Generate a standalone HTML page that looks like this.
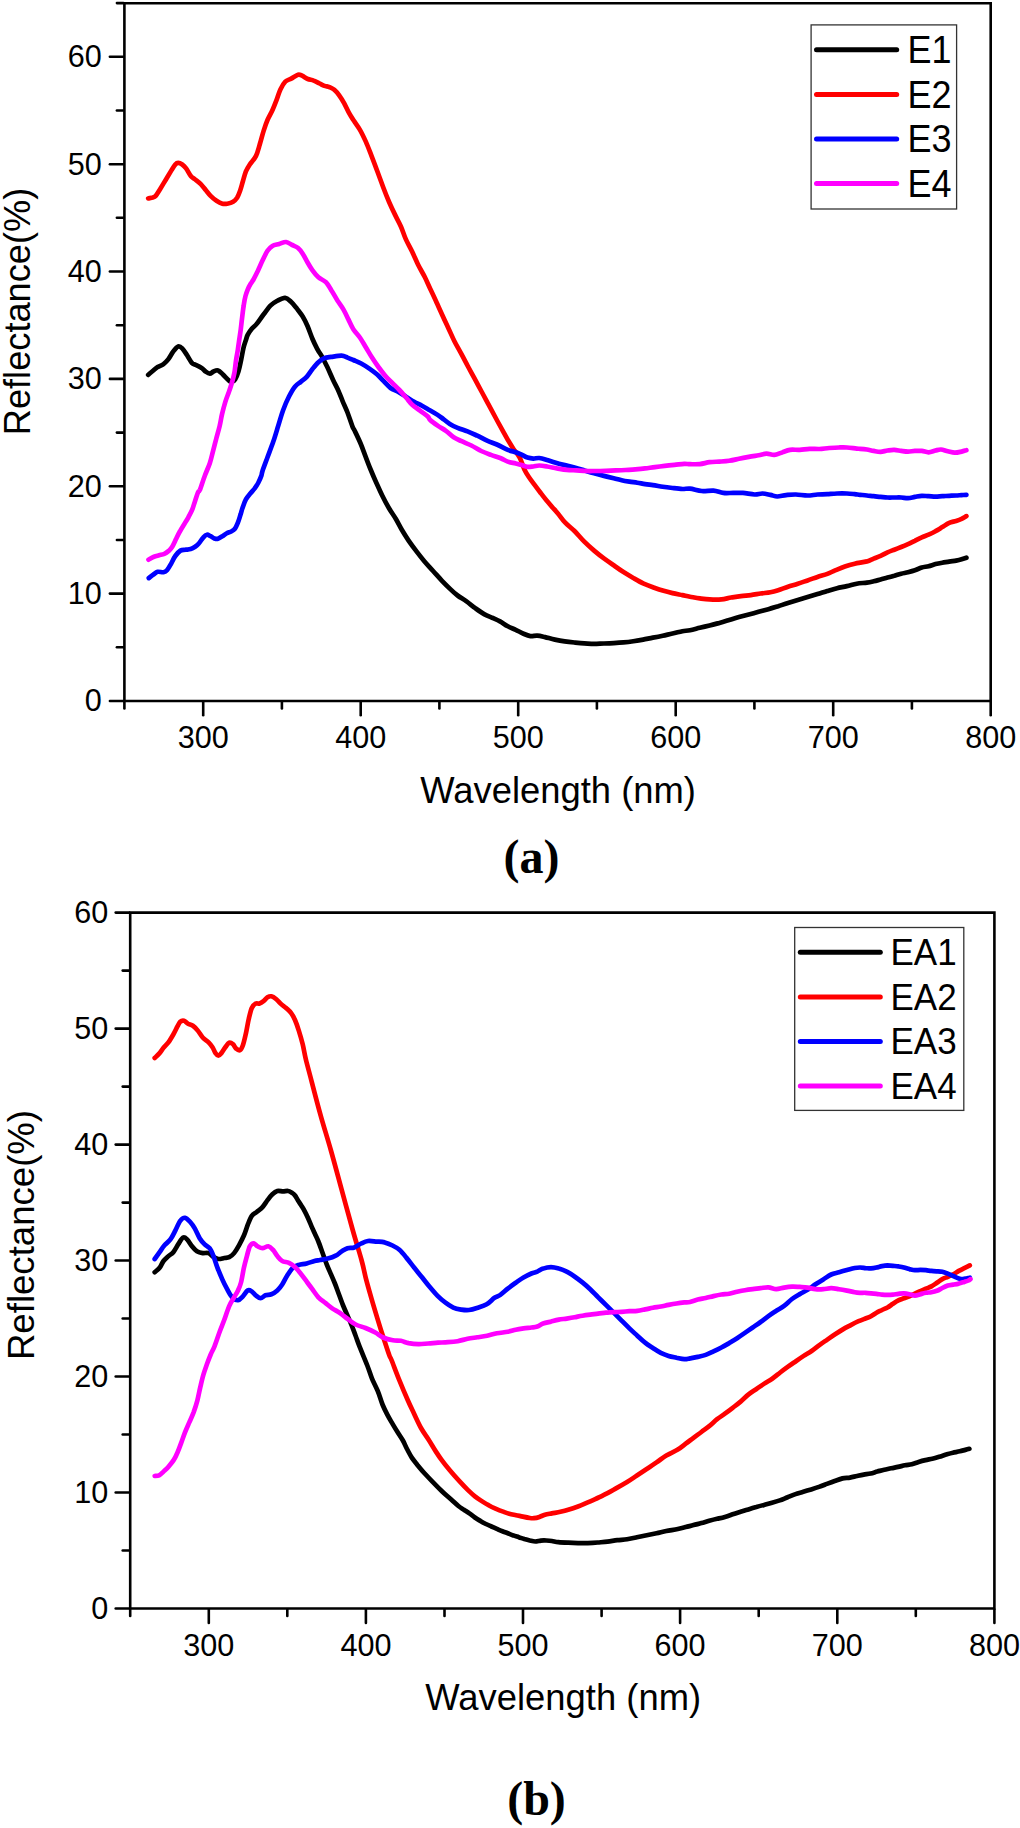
<!DOCTYPE html>
<html><head><meta charset="utf-8"><title>Reflectance spectra</title>
<style>html,body{margin:0;padding:0;background:#fff;}svg{display:block;}</style></head>
<body><svg width="1020" height="1828" viewBox="0 0 1020 1828" font-family='"Liberation Sans", sans-serif' fill="#000" style="font-variant-ligatures:none">
<rect width="1020" height="1828" fill="#fff"/>
<path d="M148.2,374.9C148.9,374.2 151.1,372.3 152.7,371C154.3,369.7 155.8,368.2 157.6,367.1C159.4,366 161.7,365.4 163.5,364.1C165.3,362.8 166.8,361.3 168.4,359.2C170,357.1 171.7,353.5 173.3,351.4C174.9,349.3 176.7,347 178.2,346.5C179.7,346 180.7,346.9 182.2,348.4C183.7,349.9 185.5,352.9 187.1,355.3C188.7,357.8 190.7,361.6 192,363.1C193.3,364.7 193.4,363.8 195,364.6C196.6,365.4 199.8,366.8 201.6,367.9C203.3,369 204.1,370.5 205.5,371.5C206.9,372.5 208.5,373.7 209.8,373.7C211.1,373.7 212.1,372.1 213.5,371.5C214.9,370.9 216.4,369.9 218,370.4C219.6,370.9 221,372.7 222.9,374.5C224.8,376.3 227.9,379.8 229.5,381C231.1,382.2 231.6,381.8 232.5,381.5C233.4,381.2 234.2,381.1 235.2,379.4C236.2,377.7 237.5,374.3 238.5,371.2C239.5,368.1 240.2,364.3 241,360.5C241.8,356.7 242.6,351.6 243.4,348.2C244.2,344.8 245.2,342.2 245.9,340C246.6,337.8 246.8,336.6 247.8,334.7C248.8,332.8 250.3,330.6 251.8,328.8C253.3,327 254.8,326.3 256.7,323.9C258.6,321.5 261.2,317.5 263.5,314.5C265.8,311.5 268.1,308 270.4,305.7C272.7,303.4 274.9,302.1 277.3,300.8C279.8,299.5 282.8,297.6 285.1,297.8C287.4,298 289,300 291,301.8C293,303.6 294.9,306.2 296.9,308.6C298.8,311.1 300.9,313.6 302.7,316.5C304.5,319.4 306,322.6 307.6,326.3C309.2,330.1 310.9,335.1 312.5,339C314.1,342.9 315.9,346.3 317.5,349.4C319.1,352.4 320.8,354.4 322.4,357.3C324,360.2 325.5,363.3 327.3,367.1C329.1,370.9 331.4,376.4 333.1,380C334.8,383.6 336,385.5 337.6,389C339.2,392.5 340.9,396.9 342.5,400.8C344.1,404.7 345.9,408.2 347.5,412.5C349.1,416.8 351.2,423.2 352.4,426.3C353.6,429.4 353.3,427.9 354.7,430.8C356.1,433.7 358.8,439.2 360.6,443.5C362.4,447.8 363.9,452.1 365.5,456.3C367.1,460.6 368.6,464.6 370.4,469C372.2,473.4 374.3,478.3 376.3,482.7C378.3,487.1 380.1,491.2 382.2,495.5C384.3,499.8 386.7,504.3 389,508.2C391.3,512.1 393.8,515.4 395.9,519C398,522.6 399.7,526.2 401.8,529.8C403.9,533.4 406.2,537 408.6,540.6C411.1,544.2 413.9,548 416.5,551.4C419.1,554.8 421.5,557.9 424.3,561.2C427.1,564.5 430.2,567.7 433.1,571C436.1,574.3 439.2,577.9 442,580.8C444.8,583.7 447.2,586.1 449.8,588.6C452.4,591.1 454.8,593.4 457.6,595.5C460.4,597.6 463.6,599.3 466.5,601.4C469.4,603.5 472.4,606.1 475.3,608.2C478.2,610.3 481.2,612.5 484.1,614.1C487,615.7 490.2,616.8 492.9,618C495.5,619.2 497.5,620 500,621.4C502.5,622.8 505.2,624.9 507.8,626.3C510.4,627.7 513.1,628.6 515.7,629.8C518.3,631 521,632.7 523.5,633.7C526,634.8 528.1,635.8 530.4,636.1C532.7,636.4 534.8,635.5 537.3,635.7C539.8,635.9 542.2,636.5 545.1,637.1C548,637.8 551.6,638.9 554.9,639.6C558.2,640.3 561.4,640.9 564.7,641.4C568,641.9 571.2,642.2 574.5,642.5C577.8,642.8 581,643.1 584.3,643.3C587.6,643.5 590.8,643.9 594.1,643.9C597.4,643.9 600.6,643.6 603.9,643.5C607.2,643.4 610.4,643.3 613.7,643.1C617,642.9 620.2,642.7 623.5,642.4C626.8,642.1 630,641.7 633.3,641.2C636.6,640.7 639.8,640.2 643.1,639.6C646.4,639 649.6,638.2 652.9,637.6C656.2,637 659.4,636.4 662.7,635.7C666,635 669.2,634.2 672.5,633.5C675.8,632.8 679.5,631.8 682.4,631.2C685.3,630.7 687.1,630.8 690,630.2C692.9,629.6 696.5,628.6 699.8,627.8C703.1,627 706.3,626.3 709.6,625.5C712.9,624.7 716.1,623.8 719.4,622.9C722.7,622 725.9,621 729.2,620C732.5,619 735.7,618 739,617.1C742.3,616.2 745.5,615.4 748.8,614.5C752.1,613.6 755.3,612.7 758.6,611.8C761.9,610.9 765.1,610.1 768.4,609.2C771.7,608.3 774.9,607.3 778.2,606.3C781.5,605.2 784.7,603.9 788,602.9C791.3,601.9 794.5,601 797.8,600C801.1,599 804.3,598.1 807.6,597.1C810.9,596.1 814.2,595.1 817.5,594.1C820.8,593.1 824,592 827.3,591C830.6,590 833.8,589 837.1,588.2C840.4,587.4 843.6,586.9 846.9,586.1C850.2,585.4 853.4,584.3 856.7,583.7C860,583.1 864.1,583 866.9,582.6C869.7,582.2 871.4,581.8 873.7,581.3C876,580.8 878.3,580.1 880.6,579.5C882.9,578.9 885.2,578.2 887.5,577.6C889.8,577 892,576.4 894.3,575.8C896.6,575.1 898.9,574.3 901.2,573.7C903.5,573.1 905.7,572.9 908,572.3C910.3,571.7 912.6,571.1 914.9,570.3C917.2,569.5 919.5,568.2 921.8,567.5C924.1,566.8 926.3,566.8 928.6,566.2C930.9,565.6 933.2,564.7 935.5,564.1C937.8,563.5 940,563.1 942.3,562.7C944.6,562.3 946.9,562 949.2,561.6C951.5,561.2 954,561 956.1,560.6C958.2,560.2 959.9,559.8 961.6,559.3C963.3,558.8 965.6,558 966.4,557.7" fill="none" stroke="#000" stroke-width="4.7" stroke-linejoin="round" stroke-linecap="round"/>
<path d="M148.2,198.4C148.9,198.2 151.4,197.9 152.7,197.5C153.9,197.1 154.5,197.2 155.7,195.9C156.8,194.7 158,192.6 159.6,190C161.2,187.4 163.5,183.5 165.5,180.2C167.5,176.9 169.8,173 171.4,170.4C173,167.8 174.2,165.8 175.3,164.5C176.4,163.2 177,162.9 178.2,162.9C179.3,162.9 180.9,163.6 182.2,164.5C183.5,165.4 184.6,166.4 186.1,168.4C187.6,170.4 189.5,174.5 191,176.3C192.5,178.1 193.3,177.9 194.9,179.2C196.5,180.5 199,182.3 200.8,184.1C202.6,185.9 204.1,188 205.7,190C207.3,192 208.8,194.1 210.6,195.9C212.4,197.7 214.5,199.5 216.5,200.8C218.5,202.1 220.6,203.2 222.4,203.7C224.2,204.2 225.5,204 227.3,203.7C229.1,203.4 231.5,202.8 233.1,201.8C234.7,200.8 235.9,199.6 237.1,197.8C238.2,196 239,193.8 240,191C241,188.2 241.9,184.5 242.9,181.2C243.9,177.9 244.8,174.2 245.9,171.4C247.1,168.6 248.1,167.1 249.8,164.5C251.5,161.9 254.2,159.5 255.9,156.1C257.6,152.7 258.5,148.6 259.8,144.3C261.1,140.1 262.4,134.7 263.7,130.6C265,126.5 266.1,123.2 267.6,119.8C269.1,116.4 271,113.3 272.5,110C274,106.7 275.2,103.6 276.5,100.2C277.8,96.8 278.9,92.5 280.4,89.4C281.9,86.3 283.5,83.4 285.3,81.6C287.1,79.8 289.1,79.8 291.2,78.6C293.3,77.4 296.2,75.2 298,74.7C299.8,74.2 300.4,75 302,75.7C303.6,76.4 305.9,78.2 307.8,79C309.8,79.8 311.7,79.8 313.7,80.6C315.7,81.3 317.8,82.6 319.6,83.5C321.4,84.4 322.9,85.3 324.5,85.9C326.1,86.5 327.8,86.4 329.4,87.1C331,87.8 332.7,88.4 334.3,89.8C335.9,91.2 337.6,93.1 339.2,95.3C340.8,97.5 342.5,100.2 344.1,103.1C345.7,106 347.4,110 349,112.9C350.6,115.9 352.1,118 353.9,120.8C355.7,123.6 357.8,126.2 359.8,129.6C361.8,133 363.7,137 365.7,141.4C367.7,145.8 369.6,151 371.6,156.1C373.6,161.2 375.6,166.6 377.5,171.8C379.4,177 381.4,182.4 383.3,187.5C385.2,192.6 387.2,197.6 389.2,202.2C391.2,206.8 393.1,210.8 395.1,214.9C397.1,219 399.2,222.6 401,226.7C402.8,230.8 404,235.2 405.9,239.4C407.8,243.6 410.2,247.6 412.2,251.8C414.2,256 415.9,260.2 418,264.5C420.1,268.8 422.8,273.1 424.9,277.3C427,281.6 428.8,285.8 430.8,290C432.8,294.2 434.8,298.4 436.7,302.7C438.6,306.9 440.6,311.2 442.5,315.5C444.4,319.8 446.4,323.9 448.4,328.2C450.4,332.4 452.2,336.8 454.3,341C456.4,345.2 458.9,349.4 461.2,353.7C463.5,357.9 465.7,362.2 468,366.5C470.3,370.8 472.6,374.9 474.9,379.2C477.2,383.4 479.5,387.8 481.8,392C484.1,396.2 486.3,400.4 488.6,404.7C490.9,408.9 493.2,413.2 495.5,417.5C497.8,421.8 500.3,426.4 502.4,430.2C504.5,433.9 506,436.9 507.9,440C509.8,443.1 511.5,446.1 513.5,449C515.5,451.9 517.9,454.2 519.7,457.6C521.5,461 522.9,466.2 524.4,469.4C525.9,472.5 526.8,473.9 528.5,476.5C530.2,479.1 532.4,482 534.4,484.7C536.4,487.4 538.3,489.9 540.3,492.5C542.3,495.1 544.2,497.6 546.2,500C548.2,502.4 550,504.6 552,506.8C554,509.1 555.7,510.9 557.9,513.5C560.1,516.1 562.2,519.5 565,522.4C567.8,525.3 571.3,527.8 574.5,531C577.7,534.2 581,538.4 584.3,541.7C587.6,545 590.8,547.8 594.1,550.6C597.4,553.4 600.6,556 603.9,558.4C607.2,560.8 610.4,563 613.7,565.3C617,567.6 620.2,570 623.5,572.1C626.8,574.2 630,576.1 633.3,578C636.6,579.9 639.8,581.8 643.1,583.3C646.4,584.8 649.6,586 652.9,587.2C656.2,588.4 659.4,589.6 662.7,590.6C666,591.6 669.2,592.4 672.5,593.1C675.8,593.9 679.5,594.5 682.4,595.1C685.3,595.7 687.1,596.2 690,596.7C692.9,597.2 696.5,598 699.8,598.4C703.1,598.8 706,599.2 709.6,599.4C713.2,599.6 717.8,599.7 721.4,599.4C725,599.1 727.9,598 731.2,597.5C734.5,597 737.7,596.5 741,596.1C744.3,595.7 747.5,595.5 750.8,595.1C754.1,594.7 757.3,594 760.6,593.5C763.9,593 767.5,592.8 770.4,592.2C773.3,591.7 775.3,591.1 778.2,590.2C781.1,589.3 784.7,587.8 788,586.7C791.3,585.6 794.5,584.8 797.8,583.7C801.1,582.7 804.3,581.5 807.6,580.4C810.9,579.3 814.2,578 817.5,576.9C820.8,575.8 824.4,575 827.3,573.9C830.2,572.8 832.2,571.6 835.1,570.4C838,569.2 841.6,567.6 844.9,566.5C848.2,565.4 851,564.6 854.7,563.7C858.4,562.9 863.7,562.2 866.9,561.4C870.1,560.5 871.4,559.5 873.7,558.6C876,557.7 878.3,556.9 880.6,555.9C882.9,554.9 885.2,553.4 887.5,552.4C889.8,551.4 892,550.6 894.3,549.7C896.6,548.8 898.9,547.9 901.2,547C903.5,546.1 905.7,545.2 908,544.2C910.3,543.2 912.6,541.9 914.9,540.8C917.2,539.6 919.5,538.3 921.8,537.3C924.1,536.3 926.3,535.6 928.6,534.6C930.9,533.6 933.2,532.5 935.5,531.2C937.8,530 940,528.5 942.3,527.1C944.6,525.7 946.9,523.9 949.2,522.9C951.5,521.9 954,521.6 956.1,520.9C958.2,520.2 959.9,519.6 961.6,518.8C963.3,518 965.6,516.5 966.4,516.1" fill="none" stroke="#f00" stroke-width="4.7" stroke-linejoin="round" stroke-linecap="round"/>
<path d="M148.8,578.1C149.5,577.5 151.7,575.8 153.2,574.7C154.7,573.7 155.9,572.2 157.6,571.8C159.3,571.4 161.9,572.5 163.5,572.2C165.1,571.9 166,571.4 167.2,570C168.4,568.6 169.6,566.4 170.9,564.1C172.2,561.8 173.7,558.2 175.3,556C176.9,553.8 178.7,551.6 180.4,550.6C182.1,549.6 183.9,550 185.6,549.7C187.3,549.5 189.1,549.6 190.7,549.1C192.3,548.6 193.8,547.7 195.1,546.8C196.4,545.9 197.5,545 198.8,543.5C200.2,542 201.8,539.1 203.2,537.6C204.5,536.1 205.7,534.9 206.9,534.7C208.1,534.5 209.4,535.6 210.6,536.2C211.8,536.8 213.1,538 214.3,538.4C215.5,538.8 216.6,539.2 217.9,538.8C219.2,538.4 220.9,537.1 222.4,536.2C223.9,535.3 225.3,534 226.8,533.2C228.3,532.4 229.8,532.2 231.2,531.5C232.5,530.8 233.8,530.2 234.9,528.8C236,527.4 236.8,525.3 237.8,522.9C238.8,520.5 239.8,516.8 240.7,514.1C241.5,511.4 242,509.2 242.9,506.8C243.8,504.4 244.7,501.6 245.9,499.4C247.1,497.2 248.8,495.3 250.3,493.5C251.8,491.7 253.3,490.2 254.7,488.4C256,486.6 257.3,484.6 258.4,482.5C259.5,480.4 260.6,477.8 261.3,475.9C262,474 261.5,474.1 262.5,471C263.5,467.9 265.7,462.2 267.5,457.3C269.3,452.4 271.5,446.8 273.3,441.6C275.1,436.4 276.6,431.1 278.2,425.9C279.8,420.7 281.3,415.1 283.1,410.2C284.9,405.3 287,400.4 289,396.5C291,392.6 292.9,389.1 294.9,386.7C296.9,384.2 298.8,383.4 300.8,381.8C302.8,380.2 304.8,379 306.7,376.9C308.6,374.8 310.6,371.4 312.5,369C314.4,366.6 316.4,364 318.4,362.2C320.4,360.4 322.2,359.1 324.3,358.2C326.4,357.3 328.3,357.3 331.2,356.9C334.1,356.5 338.9,355.6 341.6,355.7C344.3,355.8 345.6,356.9 347.5,357.6C349.4,358.3 351,359 353.3,360C355.6,361 358.6,362.1 361.2,363.5C363.8,364.9 366.4,366.6 369,368.4C371.6,370.2 374.4,372.2 376.9,374.3C379.3,376.4 381.4,378.9 383.7,381.2C386,383.5 388.2,386.2 390.6,388C393.1,389.8 395.8,390.5 398.4,392C401,393.5 403.7,395.3 406.3,396.9C408.9,398.5 411.5,400.3 414.1,401.8C416.7,403.3 419.4,404.3 422,405.7C424.6,407.1 427.2,408.7 429.8,410.2C432.4,411.7 435.6,413.6 437.6,414.9C439.6,416.2 440,416.5 442,418C444,419.5 447.2,422.3 449.8,423.9C452.4,425.5 454.7,426.6 457.6,427.8C460.6,429.1 464.2,430.1 467.5,431.4C470.8,432.7 474,434.2 477.3,435.7C480.6,437.2 483.8,439.1 487.1,440.6C490.4,442.1 493.4,443 496.9,444.5C500.3,446 504.7,448.5 507.8,449.8C510.9,451.1 513.4,451.4 515.7,452.2C518,453 519.6,453.8 521.6,454.7C523.6,455.6 525.5,457 527.5,457.6C529.5,458.2 531.3,458.5 533.3,458.6C535.2,458.7 536.9,457.8 539.2,458C541.5,458.2 544.5,459.2 547.1,460C549.7,460.8 552,461.6 554.9,462.5C557.8,463.4 561.4,464.3 564.7,465.1C568,465.9 571.2,466.6 574.5,467.5C577.8,468.4 581,469.4 584.3,470.4C587.6,471.4 590.8,472.4 594.1,473.3C597.4,474.2 600.6,475.1 603.9,475.9C607.2,476.7 610.8,477.5 613.7,478.2C616.7,478.9 619,479.6 621.6,480.2C624.2,480.8 626.8,481.2 629.4,481.6C632,482 634.7,482.3 637.3,482.7C639.9,483.1 642.5,483.7 645.1,484.1C647.7,484.5 650,484.7 652.9,485.1C655.8,485.5 659.4,486.2 662.7,486.7C666,487.2 669.2,487.6 672.5,488C675.8,488.4 679.5,488.9 682.4,489C685.3,489.1 686.8,488.3 690,488.6C693.2,488.9 697.9,490.7 701.8,491C705.7,491.3 709.9,490.3 713.5,490.6C717.1,490.9 720,492.5 723.3,492.9C726.6,493.3 729.8,492.9 733.1,492.9C736.4,492.9 739.3,492.6 742.9,492.9C746.5,493.2 751.4,494.4 754.7,494.5C758,494.6 759.9,493.4 762.5,493.5C765.1,493.6 767.9,494.4 770.4,494.9C772.9,495.4 774.7,496.5 777.3,496.5C779.9,496.5 783,495.4 786.1,495.1C789.2,494.8 792.3,494.4 795.9,494.5C799.5,494.6 804,495.5 807.6,495.5C811.2,495.5 814.2,494.7 817.5,494.5C820.8,494.3 824,494.3 827.3,494.1C830.6,493.9 833.8,493.6 837.1,493.5C840.4,493.4 844,493.4 846.9,493.5C849.8,493.6 852.5,493.9 854.7,494.1C856.9,494.3 858,494.6 860,494.8C862,495 864.6,495.3 866.9,495.5C869.2,495.7 871.4,496 873.7,496.2C876,496.4 878.3,496.7 880.6,496.9C882.9,497.1 885.2,497.4 887.5,497.5C889.8,497.6 892,497.5 894.3,497.5C896.6,497.5 898.9,497.4 901.2,497.5C903.5,497.6 905.7,498.3 908,498.2C910.3,498.1 912.6,497.3 914.9,496.9C917.2,496.5 919.5,495.9 921.8,495.8C924.1,495.7 926.3,496.1 928.6,496.2C930.9,496.3 933.2,496.6 935.5,496.6C937.8,496.6 940,496.3 942.3,496.2C944.6,496.1 946.9,495.9 949.2,495.8C951.5,495.7 954,495.6 956.1,495.5C958.2,495.4 959.9,495.2 961.6,495.1C963.3,495 965.6,494.9 966.4,494.8" fill="none" stroke="#00f" stroke-width="4.7" stroke-linejoin="round" stroke-linecap="round"/>
<path d="M148.5,559.7C149.4,559.2 152.2,557.5 154,556.8C155.8,556.1 157.4,555.8 159.1,555.3C160.8,554.8 162.7,554.5 164.3,553.8C165.9,553.1 167.3,552.1 168.7,550.9C170,549.7 171.2,548.5 172.4,546.5C173.6,544.5 174.8,541.6 176,539.1C177.2,536.6 178.3,534.2 179.7,531.8C181,529.3 182.6,526.8 184.1,524.4C185.6,522 187.2,519.6 188.5,517.1C189.8,514.6 191.1,512.4 192.2,509.7C193.3,507 194.1,503.8 195.1,500.9C196.1,498 197.3,493.9 198.1,492.1C198.9,490.3 198.8,492.8 199.9,490C201,487.2 203.2,480 204.9,475.5C206.6,471 208.4,467.3 209.8,463.2C211.2,459.1 212,454.9 213.1,450.8C214.2,446.7 215.2,442.6 216.3,438.5C217.4,434.4 218.6,430.3 219.6,426.2C220.6,422.1 221.1,418 222.1,413.9C223.1,409.8 224.3,405.2 225.4,401.6C226.5,398 227.6,395.6 228.7,392.5C229.8,389.4 230.9,386 231.9,382.7C232.9,379.4 233.7,376.5 234.4,372.8C235.1,369.1 235.4,364.3 236,360.5C236.6,356.7 237.2,353.8 237.8,350C238.4,346.2 239,341.5 239.5,338C240,334.5 240.4,332.5 240.8,329C241.2,325.5 241.7,320.9 242.2,317C242.7,313.1 243.1,309 243.7,305.5C244.2,302 244.8,298.6 245.5,296C246.2,293.4 246.8,291.8 247.6,289.8C248.4,287.8 249.5,285.7 250.5,284C251.5,282.3 252.3,281.6 253.5,279.5C254.7,277.4 256.1,274.5 257.6,271.4C259.1,268.2 260.9,264 262.5,260.6C264.1,257.2 265.9,253.2 267.5,250.8C269.1,248.4 270.4,247.1 272.4,245.9C274.3,244.8 276.9,244.6 279.2,243.9C281.5,243.2 284,241.8 286.1,242C288.2,242.2 290.1,243.9 292,244.9C293.9,245.9 296,246.3 297.8,247.8C299.6,249.3 301.1,251.2 302.7,253.7C304.3,256.1 306,259.7 307.6,262.5C309.2,265.3 310.7,267.9 312.5,270.4C314.3,272.9 316.2,275.3 318.4,277.3C320.6,279.3 323.7,279.9 325.9,282.2C328.1,284.5 329.9,287.9 331.8,291C333.8,294.1 335.7,297.7 337.6,300.8C339.6,303.9 341.7,306.5 343.5,309.6C345.3,312.7 346.8,316.1 348.4,319.4C350,322.7 351.3,326.1 353.3,329.2C355.3,332.3 358.1,334.9 360.2,338C362.3,341.1 364.1,344.5 366.1,347.8C368.1,351.1 369.9,354.3 372,357.6C374.1,360.9 376.5,364.4 378.8,367.5C381.1,370.6 383.4,373.7 385.7,376.3C388,378.9 390.2,380.8 392.5,383.1C394.8,385.4 397.1,387.6 399.4,390C401.7,392.4 404.2,395.4 406.3,397.8C408.4,400.2 409.9,402.6 412.2,404.7C414.5,406.8 417.4,408.6 420,410.6C422.6,412.6 426.1,414.9 427.8,416.5C429.5,418.1 428.5,418.4 430.2,420C431.9,421.6 435.4,424.1 438,425.9C440.6,427.7 443.3,428.9 445.9,430.8C448.5,432.7 451.1,435.6 453.7,437.3C456.3,439 458.7,439.8 461.6,441.2C464.6,442.6 468.1,443.9 471.4,445.5C474.7,447.1 477.9,449.4 481.2,451C484.5,452.6 487.7,453.7 491,454.9C494.3,456.1 498,457.1 500.8,458.2C503.6,459.3 505.3,460.7 507.8,461.6C510.3,462.5 513.4,462.9 515.7,463.5C518,464.1 519.6,464.5 521.6,465.1C523.6,465.7 525.5,466.7 527.5,466.9C529.5,467.1 531.3,466.7 533.3,466.5C535.2,466.3 536.9,465.5 539.2,465.5C541.5,465.5 544.2,466 547.1,466.5C550,467 553.6,467.8 556.9,468.4C560.2,468.9 563.4,469.5 566.7,469.8C570,470.1 573.2,470.2 576.5,470.4C579.8,470.6 583,470.9 586.3,471C589.6,471.1 592.8,471 596.1,471C599.4,471 602.6,470.9 605.9,470.8C609.2,470.7 612.4,470.5 615.7,470.4C619,470.3 622.2,470.2 625.5,470C628.8,469.8 632,469.7 635.3,469.4C638.6,469.1 641.8,468.8 645.1,468.4C648.4,468 651.6,467.5 654.9,467.1C658.2,466.7 661.4,466.3 664.7,465.9C668,465.5 671.2,465.2 674.5,464.9C677.8,464.6 681.7,464 684.3,463.9C686.9,463.8 687.4,464.2 690,464.2C692.6,464.2 696.5,464.4 699.8,464.1C703.1,463.8 706.3,462.6 709.6,462.2C712.9,461.8 716.1,461.8 719.4,461.6C722.7,461.4 725.9,461.3 729.2,460.8C732.5,460.3 735.7,459.5 739,458.8C742.3,458.1 745.5,457.5 748.8,456.9C752.1,456.3 755.6,455.8 758.6,455.3C761.6,454.8 763.9,453.8 766.5,453.7C769.1,453.6 771.7,455.1 774.3,454.9C776.9,454.7 779.6,453.2 782.2,452.4C784.8,451.5 787.1,450.2 790,449.8C792.9,449.4 796.5,450 799.8,449.8C803.1,449.6 806.3,448.9 809.6,448.8C812.9,448.7 816.1,449.1 819.4,449C822.7,448.9 825.9,448.2 829.2,448C832.5,447.8 836,447.6 839,447.5C842,447.4 843.9,447.3 846.9,447.5C849.9,447.7 854.5,448.4 856.7,448.6C858.9,448.8 858.3,448.7 860,448.8C861.7,448.9 864.6,449.1 866.9,449.5C869.2,449.9 871.4,450.5 873.7,450.9C876,451.3 878.3,451.9 880.6,451.8C882.9,451.7 885.2,450.8 887.5,450.5C889.8,450.2 892,449.8 894.3,449.9C896.6,450 898.9,450.6 901.2,450.9C903.5,451.2 905.7,451.6 908,451.6C910.3,451.6 912.6,451 914.9,450.9C917.2,450.8 919.5,450.7 921.8,450.9C924.1,451.1 926.3,452.4 928.6,452.3C930.9,452.2 933.4,451 935.5,450.5C937.6,450 939,449.4 941,449.5C943,449.6 945.5,450.8 947.8,451.3C950.1,451.8 952.4,452.6 954.7,452.7C957,452.8 959.7,452 961.6,451.6C963.5,451.2 965.6,450.4 966.4,450.2" fill="none" stroke="#f0f" stroke-width="4.7" stroke-linejoin="round" stroke-linecap="round"/>
<path d="M124.4,3.3H990.7V701H124.4Z" fill="none" stroke="#000" stroke-width="2.6"/>
<line x1="109.9" y1="701" x2="123.4" y2="701" stroke="#000" stroke-width="2.6" stroke-linecap="round"/>
<text transform="translate(101.8,711.3) scale(1,1.02)" text-anchor="end" font-size="30.6">0</text>
<line x1="116.9" y1="647.3" x2="123.4" y2="647.3" stroke="#000" stroke-width="2.6" stroke-linecap="round"/>
<line x1="109.9" y1="593.6" x2="123.4" y2="593.6" stroke="#000" stroke-width="2.6" stroke-linecap="round"/>
<text transform="translate(101.8,603.9) scale(1,1.02)" text-anchor="end" font-size="30.6">10</text>
<line x1="116.9" y1="540" x2="123.4" y2="540" stroke="#000" stroke-width="2.6" stroke-linecap="round"/>
<line x1="109.9" y1="486.3" x2="123.4" y2="486.3" stroke="#000" stroke-width="2.6" stroke-linecap="round"/>
<text transform="translate(101.8,496.6) scale(1,1.02)" text-anchor="end" font-size="30.6">20</text>
<line x1="116.9" y1="432.6" x2="123.4" y2="432.6" stroke="#000" stroke-width="2.6" stroke-linecap="round"/>
<line x1="109.9" y1="378.9" x2="123.4" y2="378.9" stroke="#000" stroke-width="2.6" stroke-linecap="round"/>
<text transform="translate(101.8,389.2) scale(1,1.02)" text-anchor="end" font-size="30.6">30</text>
<line x1="116.9" y1="325.2" x2="123.4" y2="325.2" stroke="#000" stroke-width="2.6" stroke-linecap="round"/>
<line x1="109.9" y1="271.5" x2="123.4" y2="271.5" stroke="#000" stroke-width="2.6" stroke-linecap="round"/>
<text transform="translate(101.8,281.8) scale(1,1.02)" text-anchor="end" font-size="30.6">40</text>
<line x1="116.9" y1="217.8" x2="123.4" y2="217.8" stroke="#000" stroke-width="2.6" stroke-linecap="round"/>
<line x1="109.9" y1="164.2" x2="123.4" y2="164.2" stroke="#000" stroke-width="2.6" stroke-linecap="round"/>
<text transform="translate(101.8,174.5) scale(1,1.02)" text-anchor="end" font-size="30.6">50</text>
<line x1="116.9" y1="110.5" x2="123.4" y2="110.5" stroke="#000" stroke-width="2.6" stroke-linecap="round"/>
<line x1="109.9" y1="56.8" x2="123.4" y2="56.8" stroke="#000" stroke-width="2.6" stroke-linecap="round"/>
<text transform="translate(101.8,67.1) scale(1,1.02)" text-anchor="end" font-size="30.6">60</text>
<line x1="116.9" y1="3.1" x2="123.4" y2="3.1" stroke="#000" stroke-width="2.6" stroke-linecap="round"/>
<line x1="124.4" y1="702" x2="124.4" y2="708.5" stroke="#000" stroke-width="2.6" stroke-linecap="round"/>
<line x1="203.2" y1="702" x2="203.2" y2="715.3" stroke="#000" stroke-width="2.6" stroke-linecap="round"/>
<text transform="translate(203.2,747.8) scale(1,1.02)" text-anchor="middle" font-size="30.6">300</text>
<line x1="281.9" y1="702" x2="281.9" y2="708.5" stroke="#000" stroke-width="2.6" stroke-linecap="round"/>
<line x1="360.7" y1="702" x2="360.7" y2="715.3" stroke="#000" stroke-width="2.6" stroke-linecap="round"/>
<text transform="translate(360.7,747.8) scale(1,1.02)" text-anchor="middle" font-size="30.6">400</text>
<line x1="439.4" y1="702" x2="439.4" y2="708.5" stroke="#000" stroke-width="2.6" stroke-linecap="round"/>
<line x1="518.2" y1="702" x2="518.2" y2="715.3" stroke="#000" stroke-width="2.6" stroke-linecap="round"/>
<text transform="translate(518.2,747.8) scale(1,1.02)" text-anchor="middle" font-size="30.6">500</text>
<line x1="596.9" y1="702" x2="596.9" y2="708.5" stroke="#000" stroke-width="2.6" stroke-linecap="round"/>
<line x1="675.7" y1="702" x2="675.7" y2="715.3" stroke="#000" stroke-width="2.6" stroke-linecap="round"/>
<text transform="translate(675.7,747.8) scale(1,1.02)" text-anchor="middle" font-size="30.6">600</text>
<line x1="754.4" y1="702" x2="754.4" y2="708.5" stroke="#000" stroke-width="2.6" stroke-linecap="round"/>
<line x1="833.2" y1="702" x2="833.2" y2="715.3" stroke="#000" stroke-width="2.6" stroke-linecap="round"/>
<text transform="translate(833.2,747.8) scale(1,1.02)" text-anchor="middle" font-size="30.6">700</text>
<line x1="911.9" y1="702" x2="911.9" y2="708.5" stroke="#000" stroke-width="2.6" stroke-linecap="round"/>
<line x1="990.7" y1="702" x2="990.7" y2="715.3" stroke="#000" stroke-width="2.6" stroke-linecap="round"/>
<text transform="translate(990.7,747.8) scale(1,1.02)" text-anchor="middle" font-size="30.6">800</text>
<text transform="translate(558.1,803.3) scale(1,1.035)" text-anchor="middle" font-size="36.4">Wavelength (nm)</text>
<text transform="translate(30.2,311.5) rotate(-90) scale(1,1.035)" text-anchor="middle" font-size="36.2">Reflectance(%)</text>
<rect x="811.1" y="24.9" width="145.5" height="184.1" fill="#fff" stroke="#333" stroke-width="1.3"/>
<line x1="816.5" y1="49.8" x2="896.7" y2="49.8" stroke="#000" stroke-width="5" stroke-linecap="round"/>
<text transform="translate(907.5,63) scale(1,1.055)" font-size="36">E1</text>
<line x1="816.5" y1="94.4" x2="896.7" y2="94.4" stroke="#f00" stroke-width="5" stroke-linecap="round"/>
<text transform="translate(907.5,107.6) scale(1,1.055)" font-size="36">E2</text>
<line x1="816.5" y1="139" x2="896.7" y2="139" stroke="#00f" stroke-width="5" stroke-linecap="round"/>
<text transform="translate(907.5,152.2) scale(1,1.055)" font-size="36">E3</text>
<line x1="816.5" y1="183.6" x2="896.7" y2="183.6" stroke="#f0f" stroke-width="5" stroke-linecap="round"/>
<text transform="translate(907.5,196.8) scale(1,1.055)" font-size="36">E4</text>
<text x="531.5" y="873.3" text-anchor="middle" font-family='"Liberation Serif", serif' font-weight="bold" font-size="48">(a)</text>
<path d="M154.7,1272.2C155.5,1271.5 158.1,1269.7 159.6,1267.8C161.1,1265.9 162,1263 163.5,1261C165,1259 166.8,1257.6 168.4,1256.1C170,1254.6 171.7,1254.2 173.3,1252.2C174.9,1250.2 176.6,1246.8 178.2,1244.3C179.8,1241.8 181.6,1238.3 183.1,1237.5C184.6,1236.7 185.6,1237.9 187.1,1239.4C188.6,1240.9 190.4,1244.3 192,1246.3C193.6,1248.3 195.1,1250.1 196.9,1251.2C198.7,1252.3 200.8,1252.8 202.7,1253.1C204.6,1253.4 206.8,1252.4 208.6,1253.1C210.4,1253.8 211.9,1256.1 213.5,1257.1C215.1,1258.1 216.6,1258.8 218.4,1259C220.2,1259.2 222.5,1258.3 224.3,1258C226.1,1257.7 227.6,1257.9 229.2,1257.1C230.8,1256.3 232.5,1255.1 234.1,1253.1C235.7,1251.1 237.4,1248.2 239,1245.3C240.6,1242.4 242.4,1238.9 243.9,1235.5C245.4,1232.1 246.5,1228 247.8,1224.7C249.1,1221.4 250.3,1218 251.8,1215.9C253.3,1213.8 254.9,1213.5 256.7,1212C258.5,1210.5 260.7,1209.1 262.5,1207.1C264.3,1205.1 265.9,1202.3 267.5,1200.2C269.1,1198.1 270.8,1195.8 272.4,1194.3C274,1192.8 275.5,1191.5 277.3,1191C279.1,1190.5 281.3,1191.4 283.1,1191.4C284.9,1191.4 286.5,1190.8 288,1191C289.5,1191.2 290.9,1192.2 292.1,1192.9C293.3,1193.7 294.1,1194.3 295,1195.5C295.9,1196.7 296.6,1198.2 297.6,1199.8C298.6,1201.4 299.9,1203.2 301,1205C302.1,1206.8 303.3,1208.6 304.5,1210.8C305.7,1213 306.9,1215.5 308,1218C309.1,1220.5 310.2,1223.2 311.3,1225.8C312.4,1228.4 313.7,1231 314.8,1233.5C315.9,1236 316.9,1237.8 318.2,1241C319.5,1244.2 321.1,1248.9 322.5,1252.8C323.9,1256.7 325.3,1260.8 326.7,1264.3C328.1,1267.8 329.4,1270.7 330.8,1273.9C332.2,1277.1 333.5,1280.1 334.9,1283.5C336.3,1286.9 337.6,1290.8 339,1294.5C340.4,1298.2 341.7,1302.1 343.1,1305.5C344.5,1308.9 345.8,1311.8 347.2,1315C348.6,1318.2 350,1321.3 351.4,1324.7C352.8,1328.1 354.1,1331.8 355.5,1335.5C356.9,1339.2 357.7,1341.8 359.6,1346.7C361.5,1351.6 365,1359.7 367.1,1365C369.2,1370.3 370.2,1374.2 372,1378.6C373.8,1383 376.1,1386.9 377.8,1391.2C379.6,1395.5 380.9,1400.6 382.5,1404.5C384.1,1408.4 385.6,1411.4 387.3,1414.7C389,1418 391,1421.2 392.7,1424.1C394.4,1427 395.8,1429.3 397.5,1432C399.2,1434.7 401.3,1437.7 402.9,1440.5C404.5,1443.3 405.5,1446.2 407,1449C408.5,1451.8 410,1454.9 411.8,1457.6C413.6,1460.3 415.5,1462.5 417.6,1465.2C419.8,1467.9 422.2,1470.8 424.7,1473.5C427.2,1476.2 429.6,1478.8 432.4,1481.6C435.1,1484.4 438.1,1487.5 441.2,1490.5C444.3,1493.5 448.3,1496.9 451.2,1499.5C454.1,1502.1 456.3,1504.3 458.4,1506C460.5,1507.7 462.1,1508.5 463.9,1509.7C465.7,1510.9 467.6,1512.1 469.4,1513.4C471.2,1514.7 473.1,1516.2 474.9,1517.5C476.7,1518.8 478.6,1519.9 480.4,1521C482.2,1522.1 484.1,1523.1 485.9,1524C487.7,1524.9 489.6,1525.7 491.4,1526.5C493.2,1527.3 495.1,1528.1 496.9,1528.9C498.7,1529.7 500.6,1530.6 502.4,1531.3C504.2,1532 506,1532.6 507.8,1533.3C509.6,1534 511.5,1534.8 513.3,1535.4C515.1,1536.1 517,1536.6 518.8,1537.2C520.6,1537.8 522.5,1538.5 524.3,1539.1C526.1,1539.6 528,1540.1 529.8,1540.5C531.6,1540.9 533.5,1541.5 535.3,1541.5C537.1,1541.5 539,1540.8 540.8,1540.6C542.6,1540.4 544.5,1540.4 546.3,1540.5C548.1,1540.6 549.8,1540.7 551.8,1541C553.8,1541.3 555.7,1541.9 558.4,1542.2C561.1,1542.5 564.9,1542.6 568.2,1542.7C571.5,1542.8 574.7,1543 578,1543.1C581.3,1543.2 584.5,1543.2 587.8,1543.1C591.1,1543 594.3,1542.8 597.6,1542.5C600.9,1542.2 604.2,1542 607.5,1541.6C610.8,1541.2 614,1540.6 617.3,1540.2C620.6,1539.8 623.8,1539.7 627.1,1539.2C630.4,1538.7 633.6,1538 636.9,1537.3C640.2,1536.6 643.4,1536 646.7,1535.3C650,1534.6 653.2,1534 656.5,1533.3C659.8,1532.6 662.8,1531.7 666.3,1531C669.8,1530.3 674.6,1529.7 677.8,1529C681,1528.3 683.1,1527.8 685.7,1527.1C688.3,1526.4 690.9,1525.8 693.5,1525.1C696.1,1524.4 698.8,1523.8 701.4,1523.1C704,1522.4 706.6,1521.5 709.2,1520.8C711.8,1520.1 714.5,1519.4 717.1,1518.8C719.7,1518.2 722.3,1517.7 724.9,1516.9C727.5,1516.2 730.1,1515.2 732.7,1514.3C735.3,1513.4 738,1512.6 740.6,1511.8C743.2,1511 745.8,1510.2 748.4,1509.4C751,1508.6 753.7,1507.8 756.3,1507.1C758.9,1506.3 761.5,1505.6 764.1,1504.9C766.7,1504.2 769.4,1503.5 772,1502.7C774.6,1502 777.2,1501.3 779.8,1500.4C782.4,1499.5 785,1498.3 787.6,1497.3C790.2,1496.2 792.9,1495 795.5,1494.1C798.1,1493.2 800.7,1492.6 803.3,1491.8C805.9,1491 808.6,1490.2 811.2,1489.4C813.8,1488.6 816.4,1487.8 819,1486.9C821.6,1486 824.3,1484.9 826.9,1483.9C829.5,1482.9 832.1,1481.9 834.7,1481C837.3,1480.1 840,1479 842.5,1478.4C845,1477.8 847.6,1478 850,1477.6C852.4,1477.2 854.6,1476.5 856.9,1476C859.2,1475.5 861.4,1475 863.7,1474.6C866,1474.2 868.3,1474 870.6,1473.5C872.9,1473 875.1,1472.1 877.4,1471.5C879.7,1470.9 882,1470.2 884.3,1469.7C886.6,1469.2 888.9,1468.8 891.2,1468.3C893.5,1467.8 895.7,1467.4 898,1466.9C900.3,1466.4 902.6,1465.8 904.9,1465.3C907.2,1464.8 909.5,1464.8 911.8,1464.2C914.1,1463.6 916.3,1462.6 918.6,1461.9C920.9,1461.2 923.2,1460.6 925.5,1460.1C927.8,1459.6 930,1459.2 932.3,1458.7C934.6,1458.2 936.9,1457.5 939.2,1456.8C941.5,1456.1 943.8,1455.3 946.1,1454.6C948.4,1453.9 950.6,1453.2 952.9,1452.7C955.2,1452.2 957.7,1451.8 959.8,1451.3C961.9,1450.8 963.7,1450.3 965.3,1449.9C966.9,1449.5 968.7,1449 969.4,1448.8" fill="none" stroke="#000" stroke-width="4.7" stroke-linejoin="round" stroke-linecap="round"/>
<path d="M154.7,1058C155.5,1057.2 158.1,1054.8 159.6,1053.1C161.1,1051.4 162,1049.6 163.5,1047.8C165,1046 166.8,1044.6 168.4,1042.4C170,1040.2 171.8,1037.1 173.3,1034.5C174.8,1031.9 176.2,1028.8 177.3,1026.7C178.5,1024.6 179.1,1022.8 180.2,1021.8C181.3,1020.8 182.8,1020.5 184.1,1020.8C185.4,1021.1 186.5,1022.9 188,1023.7C189.5,1024.5 191.3,1024.6 192.9,1025.7C194.5,1026.8 196.2,1028.6 197.8,1030.6C199.4,1032.6 200.9,1035.5 202.7,1037.5C204.5,1039.5 207,1040.8 208.6,1042.4C210.2,1044 211.3,1045.5 212.5,1047.3C213.7,1049.1 214.5,1051.7 215.5,1053.1C216.5,1054.5 217.4,1055.7 218.4,1055.7C219.4,1055.7 220.2,1054.5 221.4,1053.1C222.6,1051.7 224,1049 225.3,1047.3C226.6,1045.6 227.9,1043.2 229.2,1042.7C230.5,1042.2 231.9,1043.3 233.1,1044.3C234.2,1045.3 234.9,1047.6 236.1,1048.6C237.2,1049.6 238.9,1050.8 240,1050.2C241.1,1049.7 241.9,1048.1 242.9,1045.3C243.9,1042.5 244.9,1037.9 245.9,1033.5C246.9,1029.1 247.8,1023 248.8,1018.8C249.8,1014.5 250.7,1010.5 251.8,1008C253,1005.5 254.4,1004.2 255.7,1003.5C257,1002.8 258.3,1003.9 259.6,1003.5C260.9,1003.1 262.2,1002.2 263.5,1001.2C264.8,1000.2 266.2,998.1 267.5,997.3C268.8,996.5 269.9,996 271.4,996.3C272.9,996.6 274.7,997.9 276.3,999.2C277.9,1000.5 279.6,1002.6 281.2,1004.1C282.8,1005.6 284.5,1006.5 286.1,1008C287.7,1009.5 289.5,1010.9 291,1012.9C292.5,1014.9 293.6,1016.8 294.9,1019.8C296.2,1022.8 297.5,1026.5 298.8,1030.6C300.1,1034.7 301.5,1039.4 302.7,1044.3C303.9,1049.2 304.4,1053.6 306,1060C307.6,1066.4 309.6,1073.5 312,1082.8C314.4,1092.1 317.6,1104.4 320.7,1115.6C323.8,1126.8 327.3,1137.7 330.8,1150C334.3,1162.3 337.9,1175.9 341.5,1189.2C345.1,1202.5 349.4,1218.2 352.7,1230C356,1241.8 359.2,1251.7 361.5,1260C363.8,1268.3 364.5,1273.1 366.2,1279.7C367.9,1286.3 369.8,1292.8 371.7,1299.4C373.6,1306 375.6,1312.5 377.6,1319.1C379.6,1325.7 381.8,1332.7 383.8,1338.8C385.8,1344.9 388.1,1352 389.4,1355.5C390.7,1359 389.9,1356 391.5,1360C393.1,1364 396.4,1372.9 399.1,1379.6C401.8,1386.3 405.2,1394.3 407.7,1400C410.2,1405.7 412,1409.3 414.2,1414C416.4,1418.7 418.6,1423.7 421,1428C423.4,1432.3 426.4,1436.2 428.8,1440C431.2,1443.8 433.2,1447.4 435.3,1450.6C437.4,1453.8 438.8,1456.1 441.2,1459.4C443.6,1462.7 447,1467 450,1470.6C453,1474.2 456.4,1478 459.4,1481.2C462.4,1484.5 465.4,1487.6 468,1490.1C470.6,1492.6 472.6,1494.5 474.9,1496.3C477.2,1498.1 479.5,1499.6 481.8,1501.1C484.1,1502.6 486.3,1504 488.6,1505.2C490.9,1506.5 493.2,1507.6 495.5,1508.6C497.8,1509.6 500.1,1510.6 502.4,1511.4C504.7,1512.2 506.9,1513.1 509.2,1513.7C511.5,1514.3 513.8,1514.7 516.1,1515.2C518.4,1515.7 520.6,1516.1 522.9,1516.6C525.2,1517.1 528,1517.7 529.8,1518C531.6,1518.3 532.3,1518.4 533.9,1518.2C535.5,1518 537.6,1517.5 539.4,1516.9C541.2,1516.3 542.8,1515.4 544.9,1514.8C547,1514.2 549.2,1513.9 551.8,1513.4C554.4,1512.9 557.7,1512.4 560.4,1511.8C563.1,1511.2 565.3,1510.7 568.2,1509.8C571.1,1508.9 574.7,1507.7 578,1506.5C581.3,1505.3 584.5,1503.8 587.8,1502.4C591.1,1501 594.3,1499.5 597.6,1498C600.9,1496.5 604.2,1494.8 607.5,1493.1C610.8,1491.4 614,1489.4 617.3,1487.6C620.6,1485.8 623.8,1484 627.1,1482C630.4,1480 633.6,1477.7 636.9,1475.5C640.2,1473.3 643.4,1471.2 646.7,1469C650,1466.8 653.2,1464.7 656.5,1462.4C659.8,1460.2 662.8,1457.6 666.3,1455.5C669.8,1453.4 674.6,1451.6 677.8,1449.6C681,1447.6 683.1,1445.7 685.7,1443.7C688.3,1441.7 690.9,1439.8 693.5,1437.8C696.1,1435.8 698.8,1434 701.4,1432C704,1430 706.6,1428.2 709.2,1426.1C711.8,1424 714.5,1421.3 717.1,1419.2C719.7,1417.1 722.3,1415.6 724.9,1413.7C727.5,1411.8 730.1,1409.8 732.7,1407.8C735.3,1405.8 738,1403.8 740.6,1401.6C743.2,1399.4 746,1396.5 748.6,1394.4C751.2,1392.3 753.9,1390.8 756.5,1389C759.1,1387.2 761.7,1385.3 764.3,1383.6C766.9,1381.9 769.6,1380.5 772.2,1378.7C774.9,1376.9 777.6,1374.5 780.2,1372.5C782.8,1370.5 785.4,1368.6 788,1366.7C790.6,1364.8 793.3,1363 795.9,1361.2C798.5,1359.4 801.1,1357.6 803.7,1355.9C806.3,1354.2 809,1352.8 811.6,1351C814.2,1349.2 816.8,1347 819.4,1345.1C822,1343.2 824.7,1341.4 827.3,1339.6C829.9,1337.8 832.5,1336 835.1,1334.3C837.7,1332.6 840.3,1330.9 842.9,1329.4C845.5,1327.9 848.2,1326.5 850.8,1325.1C853.4,1323.7 856.1,1322.3 858.6,1321.2C861.1,1320.1 863.4,1319.3 865.5,1318.5C867.6,1317.7 869.2,1317.2 871,1316.2C872.8,1315.2 874.7,1313.7 876.5,1312.7C878.3,1311.7 880.2,1310.9 882,1310C883.8,1309.1 885.7,1308.5 887.5,1307.5C889.3,1306.5 891.1,1305 892.9,1303.8C894.7,1302.6 896.6,1301.3 898.4,1300.4C900.2,1299.5 902.1,1299 903.9,1298.3C905.7,1297.6 907.6,1297.1 909.4,1296.3C911.2,1295.5 913.1,1294.4 914.9,1293.5C916.7,1292.6 918.6,1291.9 920.4,1291.1C922.2,1290.3 924.1,1289.5 925.9,1288.7C927.7,1287.9 929.6,1287.4 931.4,1286.4C933.2,1285.4 935.1,1284 936.9,1282.8C938.7,1281.6 940.5,1280.1 942.3,1279.1C944.1,1278.1 946,1277.6 947.8,1276.8C949.6,1276 951.5,1275.3 953.3,1274.3C955.1,1273.3 957,1271.9 958.8,1270.9C960.6,1269.9 962.5,1269 964.3,1268.1C966.1,1267.2 968.9,1265.9 969.8,1265.4" fill="none" stroke="#f00" stroke-width="4.7" stroke-linejoin="round" stroke-linecap="round"/>
<path d="M154.7,1259C155.5,1257.9 158,1254.5 159.6,1252.2C161.2,1249.9 162.7,1247.4 164.5,1245.3C166.3,1243.2 168.6,1241.9 170.4,1239.4C172.2,1237 173.7,1233.7 175.3,1230.6C176.9,1227.5 178.6,1222.9 180.2,1220.8C181.8,1218.7 183.5,1217.6 185.1,1217.8C186.7,1218 188.4,1220 190,1221.8C191.6,1223.6 193.3,1225.8 194.9,1228.6C196.5,1231.4 198.2,1235.8 199.8,1238.4C201.4,1241 203.1,1242.7 204.7,1244.3C206.3,1245.9 208.1,1246.2 209.6,1248.2C211.1,1250.2 212.2,1252.8 213.5,1256.1C214.8,1259.4 216,1263.9 217.5,1267.8C219,1271.7 220.8,1276 222.4,1279.6C224,1283.2 225.7,1286.5 227.3,1289.4C228.9,1292.4 230.4,1295.5 232.2,1297.3C234,1299.1 236.2,1300.4 238,1300.2C239.8,1300 241.3,1297.9 242.9,1296.3C244.5,1294.7 246.3,1291.2 247.8,1290.4C249.3,1289.6 250.5,1290.6 251.8,1291.4C253.1,1292.2 254.2,1294.2 255.7,1295.3C257.2,1296.4 259,1298.2 260.6,1298.2C262.2,1298.2 263.7,1296 265.5,1295.3C267.3,1294.6 269.4,1295.1 271.4,1294.3C273.4,1293.5 275.5,1292 277.3,1290.4C279.1,1288.8 280.6,1287 282.2,1284.5C283.8,1282 285.3,1278.5 287.1,1275.7C288.9,1272.9 290.9,1269.6 292.9,1267.8C294.8,1266 296.5,1265.6 298.8,1264.9C301.1,1264.2 304.1,1264.2 306.7,1263.5C309.3,1262.8 312.3,1261.6 314.5,1261C316.7,1260.4 317.8,1260.4 320,1260C322.2,1259.6 325.2,1259.3 327.8,1258.6C330.4,1257.9 333.4,1256.9 335.7,1255.7C338,1254.5 339.6,1252.7 341.6,1251.4C343.6,1250.2 345.4,1248.9 347.5,1248.2C349.6,1247.5 352,1248.3 354.3,1247.5C356.6,1246.7 358.9,1244.6 361.2,1243.5C363.5,1242.4 365.4,1241.3 368,1241C370.6,1240.7 374.1,1241.4 376.9,1241.6C379.7,1241.8 382.1,1241.8 384.7,1242.4C387.3,1243.1 390.1,1244.3 392.5,1245.5C394.9,1246.7 397.1,1247.8 399.4,1249.8C401.7,1251.8 403.9,1254.6 406.3,1257.6C408.8,1260.5 411.5,1264.2 414.1,1267.5C416.7,1270.8 419.4,1274 422,1277.3C424.6,1280.6 427.2,1284 429.8,1287.1C432.4,1290.2 435,1293.3 437.6,1295.9C440.2,1298.5 442.9,1300.8 445.5,1302.7C448.1,1304.7 450.7,1306.4 453.3,1307.6C455.9,1308.8 458.6,1309.2 461.2,1309.6C463.8,1310 466.4,1310.3 469,1310C471.6,1309.7 473.9,1309 476.9,1308C479.8,1307 483.8,1306 486.7,1304.3C489.6,1302.6 492.3,1299.3 494.5,1297.8C496.7,1296.3 497.8,1296.6 500,1295.1C502.2,1293.6 505.2,1290.7 507.8,1288.6C510.4,1286.5 513.1,1284.5 515.7,1282.7C518.3,1280.9 520.9,1279 523.5,1277.5C526.1,1276 529.1,1274.5 531.4,1273.5C533.7,1272.5 535.3,1272.4 537.3,1271.6C539.2,1270.8 540.8,1269.3 543.1,1268.6C545.4,1267.8 548.4,1267.1 551,1267.1C553.6,1267.1 556.2,1267.8 558.8,1268.6C561.4,1269.3 564.1,1270.3 566.7,1271.6C569.3,1272.9 571.9,1274.7 574.5,1276.5C577.1,1278.3 579.8,1280.3 582.4,1282.4C585,1284.5 587.6,1286.8 590.2,1289.2C592.8,1291.7 595.4,1294.5 598,1297.1C600.6,1299.7 603.3,1302.3 605.9,1304.9C608.5,1307.5 611.1,1310.1 613.7,1312.7C616.3,1315.3 619,1318 621.6,1320.6C624.2,1323.2 626.8,1325.9 629.4,1328.4C632,1330.9 634.7,1333.3 637.3,1335.7C639.9,1338.1 642.5,1340.7 645.1,1342.7C647.7,1344.8 650.3,1346.3 652.9,1348C655.5,1349.7 658.2,1351.6 660.8,1352.9C663.4,1354.2 666,1355.1 668.6,1355.9C671.2,1356.7 673.9,1357.2 676.5,1357.8C679.1,1358.3 682,1359.1 684.3,1359.2C686.5,1359.3 687.8,1358.8 690,1358.4C692.2,1358 695.2,1357.5 697.8,1356.9C700.4,1356.3 703.1,1355.8 705.7,1354.9C708.3,1354 710.9,1352.6 713.5,1351.4C716.1,1350.2 718.8,1348.9 721.4,1347.5C724,1346.1 726.6,1344.6 729.2,1343.1C731.8,1341.5 734.5,1339.9 737.1,1338.2C739.7,1336.5 742.3,1334.7 744.9,1332.9C747.5,1331.1 750.1,1329.3 752.7,1327.5C755.3,1325.7 758,1323.9 760.6,1322C763.2,1320.1 765.8,1318 768.4,1316.1C771,1314.2 773.7,1312.5 776.3,1310.8C778.9,1309.1 781.5,1307.9 784.1,1305.9C786.7,1303.9 789.4,1301 792,1299C794.6,1297 797.2,1295.6 799.8,1294.1C802.4,1292.6 805,1291.4 807.6,1289.8C810.2,1288.2 812.9,1286 815.5,1284.3C818.1,1282.6 820.7,1281 823.3,1279.4C825.9,1277.8 828.6,1275.7 831.2,1274.5C833.8,1273.3 836.4,1273 839,1272.2C841.6,1271.5 844.3,1270.7 846.9,1270C849.5,1269.3 852.5,1268.4 854.7,1268C856.9,1267.6 858.2,1267.5 860,1267.5C861.8,1267.5 863.7,1267.9 865.5,1268.1C867.3,1268.2 869.2,1268.5 871,1268.4C872.8,1268.3 874.7,1267.9 876.5,1267.5C878.3,1267.1 880.2,1266.4 882,1266.1C883.8,1265.8 885.7,1265.5 887.5,1265.4C889.3,1265.4 891.1,1265.6 892.9,1265.8C894.7,1266 896.6,1266.1 898.4,1266.4C900.2,1266.7 902.1,1267 903.9,1267.5C905.7,1268 907.6,1268.6 909.4,1269.1C911.2,1269.5 913.1,1270.1 914.9,1270.2C916.7,1270.3 918.6,1269.9 920.4,1269.9C922.2,1269.9 924.1,1270 925.9,1270.2C927.7,1270.4 929.6,1270.7 931.4,1270.9C933.2,1271.1 935.1,1271.2 936.9,1271.3C938.7,1271.4 940.5,1271.4 942.3,1271.8C944.1,1272.2 946,1272.9 947.8,1273.6C949.6,1274.3 951.5,1275.2 953.3,1276C955.1,1276.8 957.2,1277.9 958.8,1278.4C960.4,1278.9 961.5,1279.1 962.9,1279.1C964.3,1279.1 966,1278.4 967.1,1278.2C968.2,1278 969.3,1277.8 969.8,1277.7" fill="none" stroke="#00f" stroke-width="4.7" stroke-linejoin="round" stroke-linecap="round"/>
<path d="M154.7,1476C155.4,1475.9 157.6,1476 159.1,1475.3C160.6,1474.6 161.9,1473.1 163.5,1471.6C165.1,1470.1 167,1468.5 168.7,1466.5C170.4,1464.5 172.3,1462.2 173.8,1459.9C175.3,1457.6 176.3,1455.3 177.5,1452.5C178.7,1449.7 180,1446.2 181.2,1442.9C182.4,1439.6 183.6,1436 184.9,1432.6C186.2,1429.2 187.8,1425.8 189.3,1422.4C190.8,1419 192.3,1415.8 193.7,1412.1C195,1408.4 196.3,1404.5 197.4,1400.3C198.5,1396.1 199.3,1391.3 200.3,1387.1C201.3,1382.9 202.1,1379.1 203.2,1375.3C204.3,1371.5 205.7,1367.7 206.9,1364.3C208.1,1360.9 209.3,1357.7 210.6,1354.7C211.9,1351.7 213,1350 214.5,1346.3C216,1342.6 217.8,1336.9 219.4,1332.5C221,1328.1 222.7,1324.2 224.3,1319.8C225.9,1315.4 227.6,1309.8 229.2,1306.1C230.8,1302.3 232.6,1299.9 234.1,1297.3C235.6,1294.7 236.8,1292.9 238,1290.4C239.2,1287.9 240,1286.3 241,1282.5C242,1278.7 242.9,1272.2 243.9,1267.8C244.9,1263.4 245.9,1259.7 246.9,1256.1C247.9,1252.5 248.7,1248.4 249.8,1246.3C250.9,1244.2 252.4,1243.3 253.7,1243.3C255,1243.3 256.1,1245.5 257.6,1246.3C259.1,1247.1 260.7,1248.2 262.5,1248.2C264.3,1248.2 266.6,1246 268.4,1246.3C270.2,1246.6 271.8,1248.6 273.3,1250.2C274.8,1251.8 275.8,1254.3 277.3,1256.1C278.8,1257.9 280.2,1259.9 282.2,1261C284.1,1262.1 286.9,1261.9 289,1262.9C291.1,1263.9 292.9,1265.1 294.9,1266.9C296.9,1268.7 298.8,1271.2 300.8,1273.7C302.8,1276.2 304.8,1279 306.7,1281.6C308.6,1284.2 310.6,1286.8 312.5,1289.4C314.4,1292 316.3,1295 318.4,1297.3C320.5,1299.5 323,1301.1 325.3,1302.9C327.6,1304.7 329.8,1306.6 332.2,1308.3C334.6,1310 337.4,1311.2 340,1313C342.6,1314.8 345.2,1317.1 347.8,1319C350.4,1320.9 352.8,1323 355.7,1324.5C358.6,1326 362.2,1326.7 365.5,1328C368.8,1329.3 372.4,1330.9 375.3,1332.5C378.2,1334.1 380.2,1336.2 383.1,1337.5C386,1338.8 389.9,1339.7 392.9,1340.2C395.8,1340.8 398.2,1340.3 400.8,1340.8C403.4,1341.3 405.7,1342.5 408.6,1343.1C411.5,1343.6 415.1,1344 418.4,1344.1C421.7,1344.2 424.9,1343.7 428.2,1343.5C431.5,1343.3 434.7,1342.9 438,1342.7C441.3,1342.5 444.5,1342.5 447.8,1342.2C451.1,1342 454.3,1341.8 457.6,1341.2C460.9,1340.6 464.2,1339.5 467.5,1338.8C470.8,1338.1 474,1337.8 477.3,1337.3C480.6,1336.8 483.8,1336.4 487.1,1335.7C490.4,1335 493.4,1334 496.9,1333.3C500.3,1332.6 504.7,1332.4 507.8,1331.8C510.9,1331.2 513.1,1330.4 515.7,1329.8C518.3,1329.2 520.9,1328.8 523.5,1328.4C526.1,1328 529.1,1327.8 531.4,1327.5C533.7,1327.2 535.3,1327.2 537.3,1326.5C539.2,1325.8 540.8,1324.3 543.1,1323.5C545.4,1322.7 548.4,1322.2 551,1321.6C553.6,1320.9 556.2,1320.1 558.8,1319.6C561.4,1319.1 564.1,1319 566.7,1318.6C569.3,1318.2 571.9,1317.8 574.5,1317.3C577.1,1316.8 579.8,1316.1 582.4,1315.7C585,1315.3 587.6,1315 590.2,1314.7C592.8,1314.4 595.4,1314 598,1313.7C600.6,1313.4 603.3,1313 605.9,1312.7C608.5,1312.5 611.1,1312.4 613.7,1312.2C616.3,1312 619,1312 621.6,1311.8C624.2,1311.6 626.8,1311.4 629.4,1311.2C632,1311 634.7,1311.1 637.3,1310.8C639.9,1310.5 642.5,1309.9 645.1,1309.4C647.7,1308.9 650.3,1308.3 652.9,1307.8C655.5,1307.3 658.2,1307 660.8,1306.5C663.4,1306 666,1305.4 668.6,1304.9C671.2,1304.4 673.9,1303.9 676.5,1303.5C679.1,1303.1 682,1302.7 684.3,1302.4C686.5,1302.2 687.8,1302.5 690,1302C692.2,1301.5 695.2,1300.3 697.8,1299.6C700.4,1298.9 703.1,1298.6 705.7,1298C708.3,1297.4 710.9,1296.7 713.5,1296.1C716.1,1295.5 718.8,1294.9 721.4,1294.5C724,1294.1 726.6,1294.2 729.2,1293.7C731.8,1293.2 734.5,1292.4 737.1,1291.8C739.7,1291.2 742.3,1290.6 744.9,1290.2C747.5,1289.8 750.1,1289.5 752.7,1289.2C755.3,1288.9 758,1288.5 760.6,1288.2C763.2,1287.9 765.8,1287.1 768.4,1287.3C771,1287.5 773.7,1289.2 776.3,1289.2C778.9,1289.2 781.5,1288 784.1,1287.6C786.7,1287.2 789.4,1286.8 792,1286.7C794.6,1286.6 797.2,1286.8 799.8,1286.9C802.4,1287.1 805,1287.2 807.6,1287.6C810.2,1288 812.9,1288.9 815.5,1289.2C818.1,1289.5 820.7,1289.4 823.3,1289.2C825.9,1289 828.6,1288.2 831.2,1288.2C833.8,1288.2 836.4,1288.8 839,1289.2C841.6,1289.6 844.3,1290.1 846.9,1290.6C849.5,1291.1 852.5,1291.8 854.7,1292.2C856.9,1292.6 858.2,1292.7 860,1292.8C861.8,1292.9 863.7,1292.7 865.5,1292.8C867.3,1292.9 869.2,1293.1 871,1293.3C872.8,1293.5 874.7,1293.7 876.5,1293.9C878.3,1294.1 880.2,1294.4 882,1294.6C883.8,1294.8 885.7,1294.9 887.5,1294.9C889.3,1294.9 891.1,1294.8 892.9,1294.6C894.7,1294.4 896.6,1294 898.4,1293.8C900.2,1293.6 902.1,1293.2 903.9,1293.3C905.7,1293.4 907.6,1293.8 909.4,1294.2C911.2,1294.6 913.1,1295.6 914.9,1295.6C916.7,1295.6 918.6,1294.7 920.4,1294.2C922.2,1293.7 924.1,1293.1 925.9,1292.8C927.7,1292.5 929.6,1292.5 931.4,1292.2C933.2,1291.9 935.1,1291.5 936.9,1290.8C938.7,1290.1 940.5,1288.9 942.3,1288C944.1,1287.1 946,1286.2 947.8,1285.6C949.6,1285 951.5,1284.9 953.3,1284.6C955.1,1284.3 957,1284 958.8,1283.6C960.6,1283.1 962.7,1282.4 964.3,1281.9C965.9,1281.4 967.4,1281 968.4,1280.5C969.4,1280 970.1,1279.3 970.5,1279.1" fill="none" stroke="#f0f" stroke-width="4.7" stroke-linejoin="round" stroke-linecap="round"/>
<path d="M130.2,912.6H994.4V1608.5H130.2Z" fill="none" stroke="#000" stroke-width="2.6"/>
<line x1="115.7" y1="1608.5" x2="129.2" y2="1608.5" stroke="#000" stroke-width="2.6" stroke-linecap="round"/>
<text transform="translate(108.3,1618.8) scale(1,1.02)" text-anchor="end" font-size="30.6">0</text>
<line x1="122.7" y1="1550.5" x2="129.2" y2="1550.5" stroke="#000" stroke-width="2.6" stroke-linecap="round"/>
<line x1="115.7" y1="1492.5" x2="129.2" y2="1492.5" stroke="#000" stroke-width="2.6" stroke-linecap="round"/>
<text transform="translate(108.3,1502.8) scale(1,1.02)" text-anchor="end" font-size="30.6">10</text>
<line x1="122.7" y1="1434.5" x2="129.2" y2="1434.5" stroke="#000" stroke-width="2.6" stroke-linecap="round"/>
<line x1="115.7" y1="1376.5" x2="129.2" y2="1376.5" stroke="#000" stroke-width="2.6" stroke-linecap="round"/>
<text transform="translate(108.3,1386.8) scale(1,1.02)" text-anchor="end" font-size="30.6">20</text>
<line x1="122.7" y1="1318.5" x2="129.2" y2="1318.5" stroke="#000" stroke-width="2.6" stroke-linecap="round"/>
<line x1="115.7" y1="1260.5" x2="129.2" y2="1260.5" stroke="#000" stroke-width="2.6" stroke-linecap="round"/>
<text transform="translate(108.3,1270.8) scale(1,1.02)" text-anchor="end" font-size="30.6">30</text>
<line x1="122.7" y1="1202.6" x2="129.2" y2="1202.6" stroke="#000" stroke-width="2.6" stroke-linecap="round"/>
<line x1="115.7" y1="1144.6" x2="129.2" y2="1144.6" stroke="#000" stroke-width="2.6" stroke-linecap="round"/>
<text transform="translate(108.3,1154.9) scale(1,1.02)" text-anchor="end" font-size="30.6">40</text>
<line x1="122.7" y1="1086.6" x2="129.2" y2="1086.6" stroke="#000" stroke-width="2.6" stroke-linecap="round"/>
<line x1="115.7" y1="1028.6" x2="129.2" y2="1028.6" stroke="#000" stroke-width="2.6" stroke-linecap="round"/>
<text transform="translate(108.3,1038.9) scale(1,1.02)" text-anchor="end" font-size="30.6">50</text>
<line x1="122.7" y1="970.6" x2="129.2" y2="970.6" stroke="#000" stroke-width="2.6" stroke-linecap="round"/>
<line x1="115.7" y1="912.6" x2="129.2" y2="912.6" stroke="#000" stroke-width="2.6" stroke-linecap="round"/>
<text transform="translate(108.3,922.9) scale(1,1.02)" text-anchor="end" font-size="30.6">60</text>
<line x1="130.2" y1="1609.5" x2="130.2" y2="1616" stroke="#000" stroke-width="2.6" stroke-linecap="round"/>
<line x1="208.8" y1="1609.5" x2="208.8" y2="1623" stroke="#000" stroke-width="2.6" stroke-linecap="round"/>
<text transform="translate(208.8,1655.5) scale(1,1.02)" text-anchor="middle" font-size="30.6">300</text>
<line x1="287.3" y1="1609.5" x2="287.3" y2="1616" stroke="#000" stroke-width="2.6" stroke-linecap="round"/>
<line x1="365.9" y1="1609.5" x2="365.9" y2="1623" stroke="#000" stroke-width="2.6" stroke-linecap="round"/>
<text transform="translate(365.9,1655.5) scale(1,1.02)" text-anchor="middle" font-size="30.6">400</text>
<line x1="444.5" y1="1609.5" x2="444.5" y2="1616" stroke="#000" stroke-width="2.6" stroke-linecap="round"/>
<line x1="523" y1="1609.5" x2="523" y2="1623" stroke="#000" stroke-width="2.6" stroke-linecap="round"/>
<text transform="translate(523,1655.5) scale(1,1.02)" text-anchor="middle" font-size="30.6">500</text>
<line x1="601.6" y1="1609.5" x2="601.6" y2="1616" stroke="#000" stroke-width="2.6" stroke-linecap="round"/>
<line x1="680.1" y1="1609.5" x2="680.1" y2="1623" stroke="#000" stroke-width="2.6" stroke-linecap="round"/>
<text transform="translate(680.1,1655.5) scale(1,1.02)" text-anchor="middle" font-size="30.6">600</text>
<line x1="758.7" y1="1609.5" x2="758.7" y2="1616" stroke="#000" stroke-width="2.6" stroke-linecap="round"/>
<line x1="837.3" y1="1609.5" x2="837.3" y2="1623" stroke="#000" stroke-width="2.6" stroke-linecap="round"/>
<text transform="translate(837.3,1655.5) scale(1,1.02)" text-anchor="middle" font-size="30.6">700</text>
<line x1="915.8" y1="1609.5" x2="915.8" y2="1616" stroke="#000" stroke-width="2.6" stroke-linecap="round"/>
<line x1="994.4" y1="1609.5" x2="994.4" y2="1623" stroke="#000" stroke-width="2.6" stroke-linecap="round"/>
<text transform="translate(994.4,1655.5) scale(1,1.02)" text-anchor="middle" font-size="30.6">800</text>
<text transform="translate(563.2,1710.2) scale(1,1.035)" text-anchor="middle" font-size="36.4">Wavelength (nm)</text>
<text transform="translate(34.3,1235) rotate(-90) scale(1,1.035)" text-anchor="middle" font-size="36.6">Reflectance(%)</text>
<rect x="794.7" y="927.5" width="169.1" height="182.9" fill="#fff" stroke="#333" stroke-width="1.3"/>
<line x1="800.3" y1="952.3" x2="880.3" y2="952.3" stroke="#000" stroke-width="5" stroke-linecap="round"/>
<text transform="translate(890.5,964.9) scale(1,1.055)" font-size="35">EA1</text>
<line x1="800.3" y1="996.9" x2="880.3" y2="996.9" stroke="#f00" stroke-width="5" stroke-linecap="round"/>
<text transform="translate(890.5,1009.5) scale(1,1.055)" font-size="35">EA2</text>
<line x1="800.3" y1="1041.5" x2="880.3" y2="1041.5" stroke="#00f" stroke-width="5" stroke-linecap="round"/>
<text transform="translate(890.5,1054.1) scale(1,1.055)" font-size="35">EA3</text>
<line x1="800.3" y1="1086.1" x2="880.3" y2="1086.1" stroke="#f0f" stroke-width="5" stroke-linecap="round"/>
<text transform="translate(890.5,1098.7) scale(1,1.055)" font-size="35">EA4</text>
<text x="536.5" y="1815" text-anchor="middle" font-family='"Liberation Serif", serif' font-weight="bold" font-size="48">(b)</text>
</svg></body></html>
